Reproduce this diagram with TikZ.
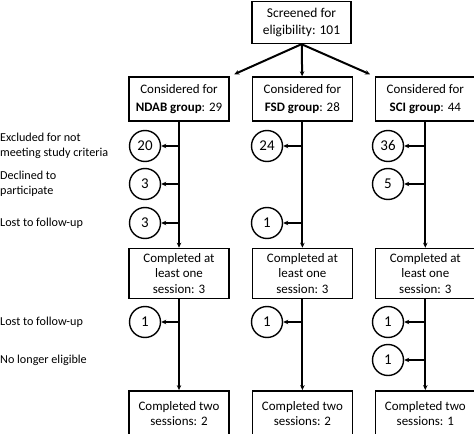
\documentclass[tikz,border=0pt]{standalone}
\usepackage{fontspec}
\setmainfont{Carlito}
\usetikzlibrary{arrows.meta, positioning}

\begin{document}
\begin{tikzpicture}[x=1bp, y=1bp,
    box/.style={rectangle, draw, line width=1.4bp, minimum width=100bp, align=center, inner sep=2bp},
    topbox/.style={box, minimum width=99bp, minimum height=42bp, font=\fontsize{13.5}{17.4}\selectfont},
    groupbox/.style={box, minimum height=44bp, font=\fontsize{13}{17.6}\selectfont},
    donebox/.style={box, minimum height=50bp, font=\fontsize{13}{15.3}\selectfont},
    twobox/.style={box, minimum height=45bp, font=\fontsize{13}{15.3}\selectfont},
    count/.style={circle, draw, line width=1.4bp, minimum size=31bp, inner sep=0pt, font=\fontsize{15}{18}\selectfont},
    reason/.style={anchor=west, align=left, inner sep=0pt, font=\fontsize{12.2}{14.6}\selectfont},
    arrow/.style={-{Stealth[length=5bp, width=4.5bp]}, line width=2bp}
]
\useasboundingbox (0,0) rectangle (474,-434);

\node[topbox] (scr) at (301.5,-22.5) {Screened for\\eligibility: 101};

\node[groupbox] (ndab) at (179,-99) {Considered for\\\textbf{NDAB group}: 29};
\node[groupbox, right=22bp of ndab] (fsd) {Considered for\\\textbf{FSD group}: 28};
\node[groupbox, right=21.5bp of fsd] (sci) {Considered for\\\textbf{SCI group}: 44};

\node[donebox, below=126bp of ndab] (ndab1) {Completed at\\least one\\session: 3};
\node[donebox, below=126bp of fsd] (fsd1) {Completed at\\least one\\session: 3};
\node[donebox, below=126bp of sci] (sci1) {Completed at\\least one\\session: 3};

\node[twobox, below=91bp of ndab1] (ndab2) {Completed two\\sessions: 2};
\node[twobox, below=91bp of fsd1] (fsd2) {Completed two\\sessions: 2};
\node[twobox, below=91bp of sci1] (sci2) {Completed two\\sessions: 1};

% reasons
\node[reason] (excl) at (0,-146) {Excluded for not\\meeting study criteria};
\node[reason] (decl) at (0,-184) {Declined to\\participate};
\node[reason] (lost) at (0,-223) {Lost to follow-up};
\node[reason] (lost2) at (0,-322) {Lost to follow-up};
\node[reason] (elig) at (0,-360) {No longer eligible};

% counts
\node[count] (ndabx) at (145,-146) {20};
\node[count] (ndabd) at (145,-184) {3};
\node[count] (ndabl) at (145,-223) {3};
\node[count] (ndabl2) at (145,-322) {1};

\node[count] (fsdx) at (267,-146) {24};
\node[count] (fsdl) at (267,-223) {1};
\node[count] (fsdl2) at (267,-322) {1};

\node[count] (scix) at (388,-146) {36};
\node[count] (scid) at (388,-184) {5};
\node[count] (scil2) at (388,-322) {1};
\node[count] (scie) at (388,-360) {1};

\draw[arrow] (scr) -- (fsd);
\draw[arrow, shorten >=5bp] (scr.south) -- (ndab.north east);
\draw[arrow, shorten >=5bp] (scr.south) -- (sci.north west);

\draw[arrow] (ndab) -- (ndab1);
\draw[arrow] (fsd) -- (fsd1);
\draw[arrow] (sci) -- (sci1);
\draw[arrow] (ndab1) -- (ndab2);
\draw[arrow] (fsd1) -- (fsd2);
\draw[arrow] (sci1) -- (sci2);

\draw[arrow] (ndabx.east -| ndab.south) -- (ndabx.east);
\draw[arrow] (ndabd.east -| ndab.south) -- (ndabd.east);
\draw[arrow] (ndabl.east -| ndab.south) -- (ndabl.east);
\draw[arrow] (ndabl2.east -| ndab.south) -- (ndabl2.east);
\draw[arrow] (fsdx.east -| fsd.south) -- (fsdx.east);
\draw[arrow] (fsdl.east -| fsd.south) -- (fsdl.east);
\draw[arrow] (fsdl2.east -| fsd.south) -- (fsdl2.east);
\draw[arrow] (scix.east -| sci.south) -- (scix.east);
\draw[arrow] (scid.east -| sci.south) -- (scid.east);
\draw[arrow] (scil2.east -| sci.south) -- (scil2.east);
\draw[arrow] (scie.east -| sci.south) -- (scie.east);

\end{tikzpicture}
\end{document}
